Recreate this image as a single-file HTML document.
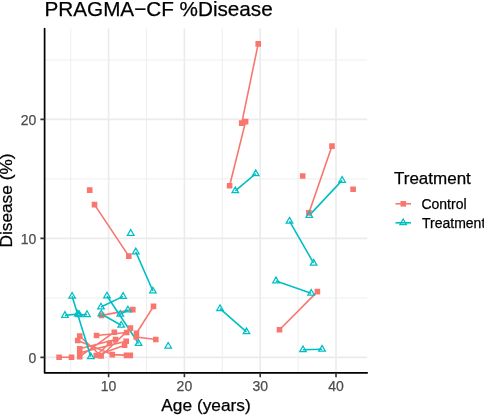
<!DOCTYPE html><html><head><meta charset="utf-8"><style>html,body{margin:0;padding:0;background:#fff;width:484px;height:415px;overflow:hidden}svg{display:block;will-change:transform}text{font-family:"Liberation Sans",sans-serif;stroke:currentColor;stroke-width:0.25px}</style></head><body>
<svg width="484" height="415" viewBox="0 0 484 415">
<rect width="484" height="415" fill="#fff"/>
<line x1="70.7" y1="28.6" x2="70.7" y2="372.8" stroke="#EBEBEB" stroke-width="0.8"/><line x1="146.5" y1="28.6" x2="146.5" y2="372.8" stroke="#EBEBEB" stroke-width="0.8"/><line x1="222.3" y1="28.6" x2="222.3" y2="372.8" stroke="#EBEBEB" stroke-width="0.8"/><line x1="298.1" y1="28.6" x2="298.1" y2="372.8" stroke="#EBEBEB" stroke-width="0.8"/><line x1="44.6" y1="297.9" x2="367.2" y2="297.9" stroke="#EBEBEB" stroke-width="0.8"/><line x1="44.6" y1="178.9" x2="367.2" y2="178.9" stroke="#EBEBEB" stroke-width="0.8"/><line x1="44.6" y1="59.9" x2="367.2" y2="59.9" stroke="#EBEBEB" stroke-width="0.8"/><line x1="108.6" y1="28.6" x2="108.6" y2="372.8" stroke="#EBEBEB" stroke-width="1.6"/><line x1="184.4" y1="28.6" x2="184.4" y2="372.8" stroke="#EBEBEB" stroke-width="1.6"/><line x1="260.2" y1="28.6" x2="260.2" y2="372.8" stroke="#EBEBEB" stroke-width="1.6"/><line x1="336" y1="28.6" x2="336" y2="372.8" stroke="#EBEBEB" stroke-width="1.6"/><line x1="44.6" y1="357.4" x2="367.2" y2="357.4" stroke="#EBEBEB" stroke-width="1.6"/><line x1="44.6" y1="238.4" x2="367.2" y2="238.4" stroke="#EBEBEB" stroke-width="1.6"/><line x1="44.6" y1="119.4" x2="367.2" y2="119.4" stroke="#EBEBEB" stroke-width="1.6"/>
<path d="M258.2 43.9L241.7 123.1M229.6 185.8L245.6 121.6M332 146.1L308.9 212.9M317.4 291.6L279.5 329.7M94.5 204.6L128.8 256.1M101.6 315.4L132.8 309.6M136.5 333.3L153.5 306.4M136.3 337L155.8 339.5M59.1 357.3L71.5 357.3M96.5 335.5L126.7 332.5M79.7 356.7L114.3 332.2M79.7 348.8L115.6 339.6M79.7 352.8L126.2 341.2M79.7 336L101.1 356M77.7 340.5L112.3 354.6M96.3 355.5L124.6 345.3M101.1 356L130.4 328.1M96.3 355.5L109.6 343.2M112.3 354.6L130.3 355.4" stroke="#F8766D" stroke-width="1.6" fill="none" stroke-linecap="butt"/>
<path d="M235.3 190.8L255.7 173.7M342.1 180.4L309.3 215.4M289.5 221.2L313.6 263.2M276 280.9L311.2 293.3M303 349.8L322 349.2M135.8 251.9L152.9 291M72.1 296.3L90.8 356.8M65 315.4L77.7 314M79.3 314.8L87 314.6M123.1 296.4L101 307M107 296L138.6 343.5M101.3 314L121.2 325.3M120.3 314.3L127.9 310M220 308.7L246.5 331.8" stroke="#00BFC4" stroke-width="1.6" fill="none" stroke-linecap="butt"/>
<path d="M255.4 41.1h5.6v5.6h-5.6zM238.9 120.3h5.6v5.6h-5.6zM226.8 183h5.6v5.6h-5.6zM242.8 118.8h5.6v5.6h-5.6zM329.2 143.3h5.6v5.6h-5.6zM306.1 210.1h5.6v5.6h-5.6zM314.6 288.8h5.6v5.6h-5.6zM276.7 326.9h5.6v5.6h-5.6zM91.7 201.8h5.6v5.6h-5.6zM126 253.3h5.6v5.6h-5.6zM98.8 312.6h5.6v5.6h-5.6zM130 306.8h5.6v5.6h-5.6zM133.7 330.5h5.6v5.6h-5.6zM150.7 303.6h5.6v5.6h-5.6zM133.5 334.2h5.6v5.6h-5.6zM153 336.7h5.6v5.6h-5.6zM56.3 354.5h5.6v5.6h-5.6zM68.7 354.5h5.6v5.6h-5.6zM93.7 332.7h5.6v5.6h-5.6zM123.9 329.7h5.6v5.6h-5.6zM76.9 353.9h5.6v5.6h-5.6zM111.5 329.4h5.6v5.6h-5.6zM76.9 346h5.6v5.6h-5.6zM112.8 336.8h5.6v5.6h-5.6zM76.9 350h5.6v5.6h-5.6zM123.4 338.4h5.6v5.6h-5.6zM76.9 333.2h5.6v5.6h-5.6zM98.3 353.2h5.6v5.6h-5.6zM74.9 337.7h5.6v5.6h-5.6zM109.5 351.8h5.6v5.6h-5.6zM93.5 352.7h5.6v5.6h-5.6zM121.8 342.5h5.6v5.6h-5.6zM98.3 353.2h5.6v5.6h-5.6zM127.6 325.3h5.6v5.6h-5.6zM93.5 352.7h5.6v5.6h-5.6zM106.8 340.4h5.6v5.6h-5.6zM109.5 351.8h5.6v5.6h-5.6zM127.5 352.6h5.6v5.6h-5.6zM86.9 187.3h5.6v5.6h-5.6zM299.9 173.2h5.6v5.6h-5.6zM350.3 186.5h5.6v5.6h-5.6zM123.7 352.6h5.6v5.6h-5.6z" fill="#F8766D"/>
<path d="M235.3 187L238.59 192.7L232.01 192.7ZM255.7 169.9L258.99 175.6L252.41 175.6ZM342.1 176.6L345.39 182.3L338.81 182.3ZM309.3 211.6L312.59 217.3L306.01 217.3ZM289.5 217.4L292.79 223.1L286.21 223.1ZM313.6 259.4L316.89 265.1L310.31 265.1ZM276 277.1L279.29 282.8L272.71 282.8ZM311.2 289.5L314.49 295.2L307.91 295.2ZM303 346L306.29 351.7L299.71 351.7ZM322 345.4L325.29 351.1L318.71 351.1ZM135.8 248.1L139.09 253.8L132.51 253.8ZM152.9 287.2L156.19 292.9L149.61 292.9ZM72.1 292.5L75.39 298.2L68.81 298.2ZM90.8 353L94.09 358.7L87.51 358.7ZM65 311.6L68.29 317.3L61.71 317.3ZM77.7 310.2L80.99 315.9L74.41 315.9ZM79.3 311L82.59 316.7L76.01 316.7ZM87 310.8L90.29 316.5L83.71 316.5ZM123.1 292.6L126.39 298.3L119.81 298.3ZM101 303.2L104.29 308.9L97.71 308.9ZM107 292.2L110.29 297.9L103.71 297.9ZM138.6 339.7L141.89 345.4L135.31 345.4ZM101.3 310.2L104.59 315.9L98.01 315.9ZM121.2 321.5L124.49 327.2L117.91 327.2ZM120.3 310.5L123.59 316.2L117.01 316.2ZM127.9 306.2L131.19 311.9L124.61 311.9ZM220 304.9L223.29 310.6L216.71 310.6ZM246.5 328L249.79 333.7L243.21 333.7ZM130.7 229.6L133.99 235.3L127.41 235.3ZM168.2 342.5L171.49 348.2L164.91 348.2Z" fill="none" stroke="#00BFC4" stroke-width="1.25" stroke-linejoin="miter"/>
<path d="M44.6 28.6V372.8H367.2" stroke="#000" stroke-width="1.7" fill="none" stroke-linecap="round" stroke-linejoin="round"/>
<path d="M40.4 357.4H44.6M40.4 238.4H44.6M40.4 119.4H44.6M108.6 372.8V377.3M184.4 372.8V377.3M260.2 372.8V377.3M336 372.8V377.3" stroke="#333" stroke-width="1.6" fill="none"/>
<text x="36.4" y="363" font-size="14" fill="#4D4D4D" color="#4D4D4D" text-anchor="end">0</text>
<text x="36.4" y="244" font-size="14" fill="#4D4D4D" color="#4D4D4D" text-anchor="end">10</text>
<text x="36.4" y="125" font-size="14" fill="#4D4D4D" color="#4D4D4D" text-anchor="end">20</text>
<text x="108.6" y="391.2" font-size="14" fill="#4D4D4D" color="#4D4D4D" text-anchor="middle">10</text>
<text x="184.4" y="391.2" font-size="14" fill="#4D4D4D" color="#4D4D4D" text-anchor="middle">20</text>
<text x="260.2" y="391.2" font-size="14" fill="#4D4D4D" color="#4D4D4D" text-anchor="middle">30</text>
<text x="336" y="391.2" font-size="14" fill="#4D4D4D" color="#4D4D4D" text-anchor="middle">40</text>
<text x="206" y="411" font-size="17.3" fill="#000" color="#000" text-anchor="middle">Age (years)</text>
<text transform="translate(12.3,200.5) rotate(-90)" x="0" y="0" font-size="17.3" fill="#000" color="#000" text-anchor="middle">Disease (%)</text>
<text x="44.5" y="15.5" font-size="20.7" fill="#000" color="#000">PRAGMA−CF %Disease</text>
<text x="394" y="184" font-size="17" fill="#000" color="#000">Treatment</text>
<path d="M395.5 203.8H411" stroke="#F8766D" stroke-width="1.6"/>
<path d="M400.5 201h5.6v5.6h-5.6z" fill="#F8766D"/>
<path d="M395.5 222.8H411" stroke="#00BFC4" stroke-width="1.6"/>
<path d="M403.2 219L406.49 224.7L399.91 224.7Z" fill="none" stroke="#00BFC4" stroke-width="1.25"/>
<text x="421.4" y="209.3" font-size="14" fill="#000" color="#000">Control</text>
<text x="422" y="227.8" font-size="14" fill="#000" color="#000">Treatment</text>
</svg></body></html>
